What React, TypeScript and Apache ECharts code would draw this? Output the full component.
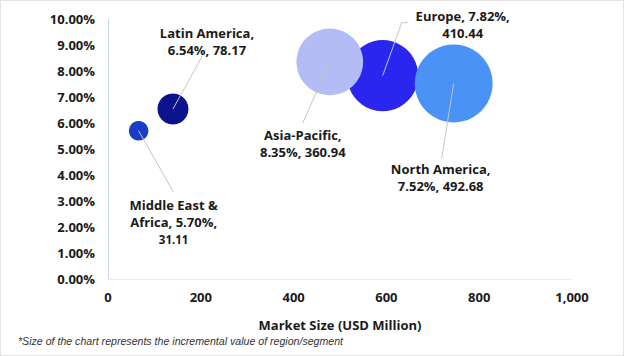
import React, { useEffect, useRef } from "react";
import * as echarts from "echarts";

// ---- data ----
const regions = ["Middle East & Africa", "Latin America", "Europe", "Asia-Pacific", "North America"];
const marketSize = [66, 140, 592, 478, 745]; // x (USD Million)
const growthPct = [5.7, 6.54, 7.82, 8.35, 7.52]; // y (%)
const incremental = [31.11, 78.17, 410.44, 360.94, 492.68]; // bubble size
const xTicks = { min: 0, max: 1000, interval: 200 };
const yTicks = { min: 0, max: 10, interval: 1 };

// ---- style ----
const colors = ["#1a3cc8", "#0b148c", "#2a26f0", "#b3bcf5", "#4a92f6"];
const FONT = "'Open Sans', 'DejaVu Sans', sans-serif";

type LabelStyle = {
  lines: (name: string, p: string, s: string) => string[];
  small?: number[];
  tx: number;
  ty: number[];
  leader: number[][];
};

const labelStyles: LabelStyle[] = [
  {
    lines: (n, p, s) => ["Middle East &", `Africa, ${p}%,`, s],
    small: [2],
    tx: 35,
    ty: [74.5, 91.5, 108.5],
    leader: [[35, 61.5]],
  },
  {
    lines: (n, p, s) => [`${n},`, `${p}%, ${s}`],
    tx: 34,
    ty: [-76, -59],
    leader: [[30, -54]],
  },
  {
    lines: (n, p, s) => [`${n}, ${p}%,`, s],
    tx: 80,
    ty: [-60, -43],
    leader: [[19, -53], [25, -53]],
  },
  {
    lines: (n, p, s) => [`${n},`, `${p}%, ${s}`],
    tx: -27,
    ty: [73, 90],
    leader: [[-27, 61]],
  },
  {
    lines: (n, p, s) => [`${n},`, `${p}%, ${s}`],
    tx: -13,
    ty: [86, 102.5],
    leader: [[-12, 75]],
  },
];

export default function App() {
  const ref = useRef<HTMLDivElement>(null);

  useEffect(() => {
    document.body.style.margin = "0";
    if (!ref.current) return;
    const chart = echarts.init(ref.current, null, { renderer: "svg" });

    const bubbleData = regions.map((r, i) => ({
      name: r,
      value: [marketSize[i], growthPct[i], incremental[i]],
      itemStyle: { color: colors[i] },
    }));

    const labelData = regions.map((r, i) => [marketSize[i], growthPct[i], i]);

    chart.setOption({
      animation: false,
      backgroundColor: "#ffffff",
      grid: { left: 107, right: 51, top: 18, bottom: 76 },
      xAxis: {
        type: "value",
        min: xTicks.min,
        max: xTicks.max,
        interval: xTicks.interval,
        name: "Market Size (USD Million)",
        nameLocation: "middle",
        nameGap: 39,
        nameTextStyle: { fontFamily: FONT, fontWeight: "bold", fontSize: 13, color: "#1a1a1a" },
        axisLine: { show: true, lineStyle: { color: "#ececec", width: 1 } },
        axisTick: { show: false },
        splitLine: { show: false },
        axisLabel: {
          margin: 11,
          fontFamily: FONT,
          fontWeight: "bold",
          fontSize: 13,
          color: "#1a1a1a",
          formatter: (v: number) => v.toLocaleString("en-US"),
        },
      },
      yAxis: {
        type: "value",
        min: yTicks.min,
        max: yTicks.max,
        interval: yTicks.interval,
        axisLine: { show: true, lineStyle: { color: "#c9d5ea", width: 1 } },
        axisTick: { show: false },
        splitLine: { show: false },
        axisLabel: {
          margin: 13,
          fontFamily: FONT,
          fontWeight: "bold",
          fontSize: 13,
          color: "#1a1a1a",
          formatter: (v: number) => v.toFixed(2) + "%",
        },
      },
      graphic: [
        {
          type: "text",
          left: 17,
          top: 334,
          style: {
            text: "*Size of the chart represents the incremental value of region/segment",
            fontFamily: "'Liberation Sans', sans-serif",
            fontStyle: "italic",
            fontSize: 10.6,
            fill: "#333333",
          },
        },
      ],
      series: [
        {
          type: "scatter",
          data: bubbleData,
          symbolSize: (v: number[]) => 3.51 * Math.sqrt(v[2]),
          itemStyle: { opacity: 1 },
          z: 2,
        },
        {
          type: "custom",
          data: labelData,
          z: 3,
          silent: true,
          renderItem: (params: any, api: any) => {
            const i = api.value(2) as number;
            const p = api.coord([api.value(0), api.value(1)]);
            const st = labelStyles[i];
            const pts = [[p[0], p[1]], ...st.leader.map((o) => [p[0] + o[0], p[1] + o[1]])];
            const lines = st.lines(
              regions[i],
              growthPct[i].toFixed(2),
              incremental[i].toFixed(2)
            );
            const children: any[] = [
              {
                type: "polyline",
                shape: { points: pts },
                style: { stroke: "#c4c4c4", lineWidth: 1, fill: null },
              },
            ];
            lines.forEach((t, k) => {
              const small = st.small && st.small.includes(k);
              children.push({
                type: "text",
                x: p[0] + st.tx,
                y: p[1] + st.ty[k],
                style: {
                  text: t,
                  fontFamily: FONT,
                  fontWeight: "bold",
                  fontSize: small ? 11.5 : 13,
                  fill: "#1a1a1a",
                  align: "center",
                  verticalAlign: "middle",
                },
              });
            });
            return { type: "group", children };
          },
        },
      ],
    });

    return () => chart.dispose();
  }, []);

  return (
    <div
      style={{
        width: 624,
        height: 356,
        boxSizing: "border-box",
        border: "1px solid #e4e4e4",
        background: "#fff",
      }}
    >
      <div ref={ref} style={{ width: 622, height: 354 }} />
    </div>
  );
}
